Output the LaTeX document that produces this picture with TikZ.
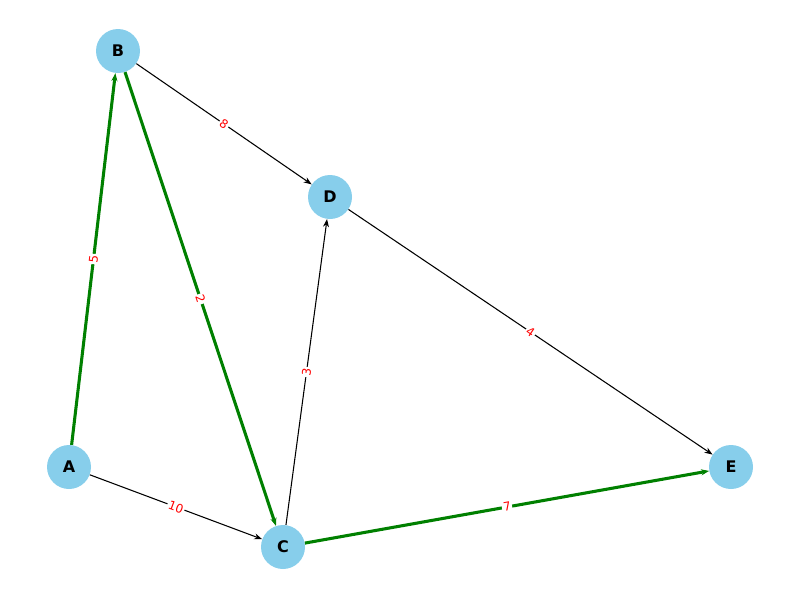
\documentclass[tikz,border=0pt]{standalone}
\usepackage{fontspec}
\setmainfont{DejaVu Sans}
\usetikzlibrary{arrows.meta}
\begin{document}
\begin{tikzpicture}[x=0.75pt,y=-0.75pt,
  vtx/.style={circle,fill=cyan!45!blue!30!white,fill={rgb,255:red,135;green,206;blue,235},minimum size=33pt,inner sep=0pt,font=\bfseries\large},
  edge/.style={-{Stealth[length=6pt,width=4.5pt]},black,line width=0.8pt},
  hot/.style={-{Stealth[length=6pt,width=4.5pt]},green!50!black,line width=2.3pt},
  lbl/.style={fill=white,text=red,font=\small,sloped,inner sep=1pt}]
\useasboundingbox (0,0) rectangle (800,600);
\node[vtx] (A) at (69,467) {A};
\node[vtx] (B) at (118,51) {B};
\node[vtx] (C) at (283,547) {C};
\node[vtx] (D) at (330,197) {D};
\node[vtx] (E) at (731,467) {E};
\draw[edge] (A) -- node[lbl]{10} (C);
\draw[edge] (B) -- node[lbl]{8} (D);
\draw[edge] (C) -- node[lbl]{3} (D);
\draw[edge] (D) -- node[lbl]{4} (E);
\draw[hot] (A) -- node[lbl]{5} (B);
\draw[hot] (B) -- node[lbl]{2} (C);
\draw[hot] (C) -- node[lbl]{7} (E);
\end{tikzpicture}
\end{document}
